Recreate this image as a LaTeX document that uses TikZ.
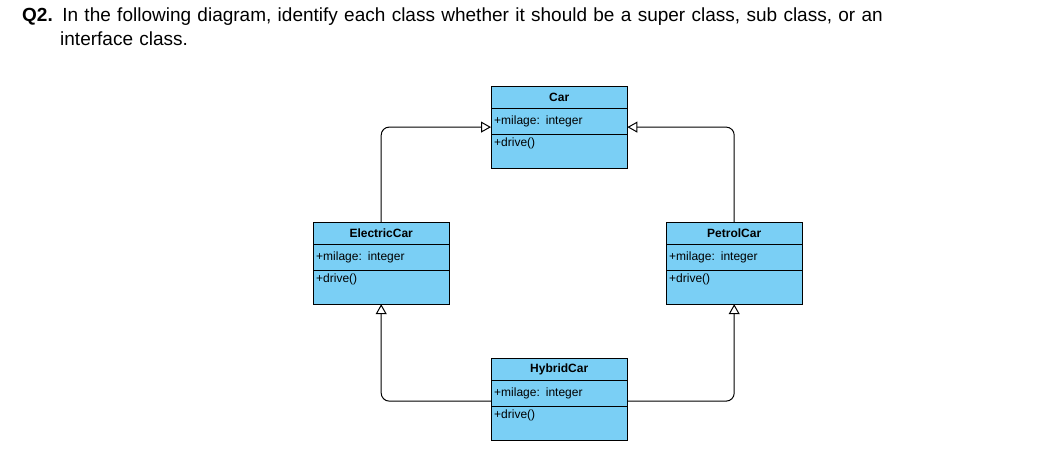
\documentclass[tikz,border=0pt]{standalone}
\usepackage{fontspec}
\setmainfont{Liberation Sans}
\usetikzlibrary{positioning,arrows.meta}

\definecolor{classblue}{HTML}{7ACFF5}

\tikzset{
    row/.style={draw, fill=classblue, minimum width=136pt, inner xsep=3pt, inner ysep=3pt, font=\fontsize{12}{14}\selectfont, text width=130pt},
    trow/.style={row, minimum height=22pt, align=center, font=\fontsize{12}{14}\selectfont\bfseries},
    arow/.style={row, minimum height=26pt, align=left},
    mrow/.style={row, minimum height=34pt, align=left, text depth=17pt},
    inherit/.style={draw, line width=1pt, rounded corners=8pt, -{Triangle[open, length=10pt, width=11pt]}}
}

\newcommand{\umlclass}[3]{%
    \node(#1)[trow, anchor=north west] at (#2) {#3};
    \node(#1a)[arow, below=-0.5pt of #1]{+milage: integer};
    \node(#1m)[mrow, below=-0.5pt of #1a]{+drive()};
}

\begin{document}
\begin{tikzpicture}[x=1pt, y=-1pt]

    \useasboundingbox (0,0) rectangle (1044,474);

    \node(q)[anchor=north west, align=left, text width=1020pt, inner sep=0pt, font=\fontsize{19}{24}\selectfont] at (22,8)
        {\textbf{Q2.} In the following diagram, identify each class whether it should be a super class, sub class, or an\\
        \hspace*{38pt}interface class.};

    \umlclass{car}{491,86}{Car}
    \umlclass{ecar}{313,222}{ElectricCar}
    \umlclass{pcar}{666,222}{PetrolCar}
    \umlclass{hcar}{491,358}{HybridCar}

    \draw[inherit] (ecar.north) |- ([yshift=-6pt]cara.west);
    \draw[inherit] (pcar.north) |- ([yshift=-6pt]cara.east);
    \draw[inherit] ([yshift=-8pt]hcara.west) -| (ecarm.south);
    \draw[inherit] ([yshift=-8pt]hcara.east) -| (pcarm.south);

\end{tikzpicture}
\end{document}
